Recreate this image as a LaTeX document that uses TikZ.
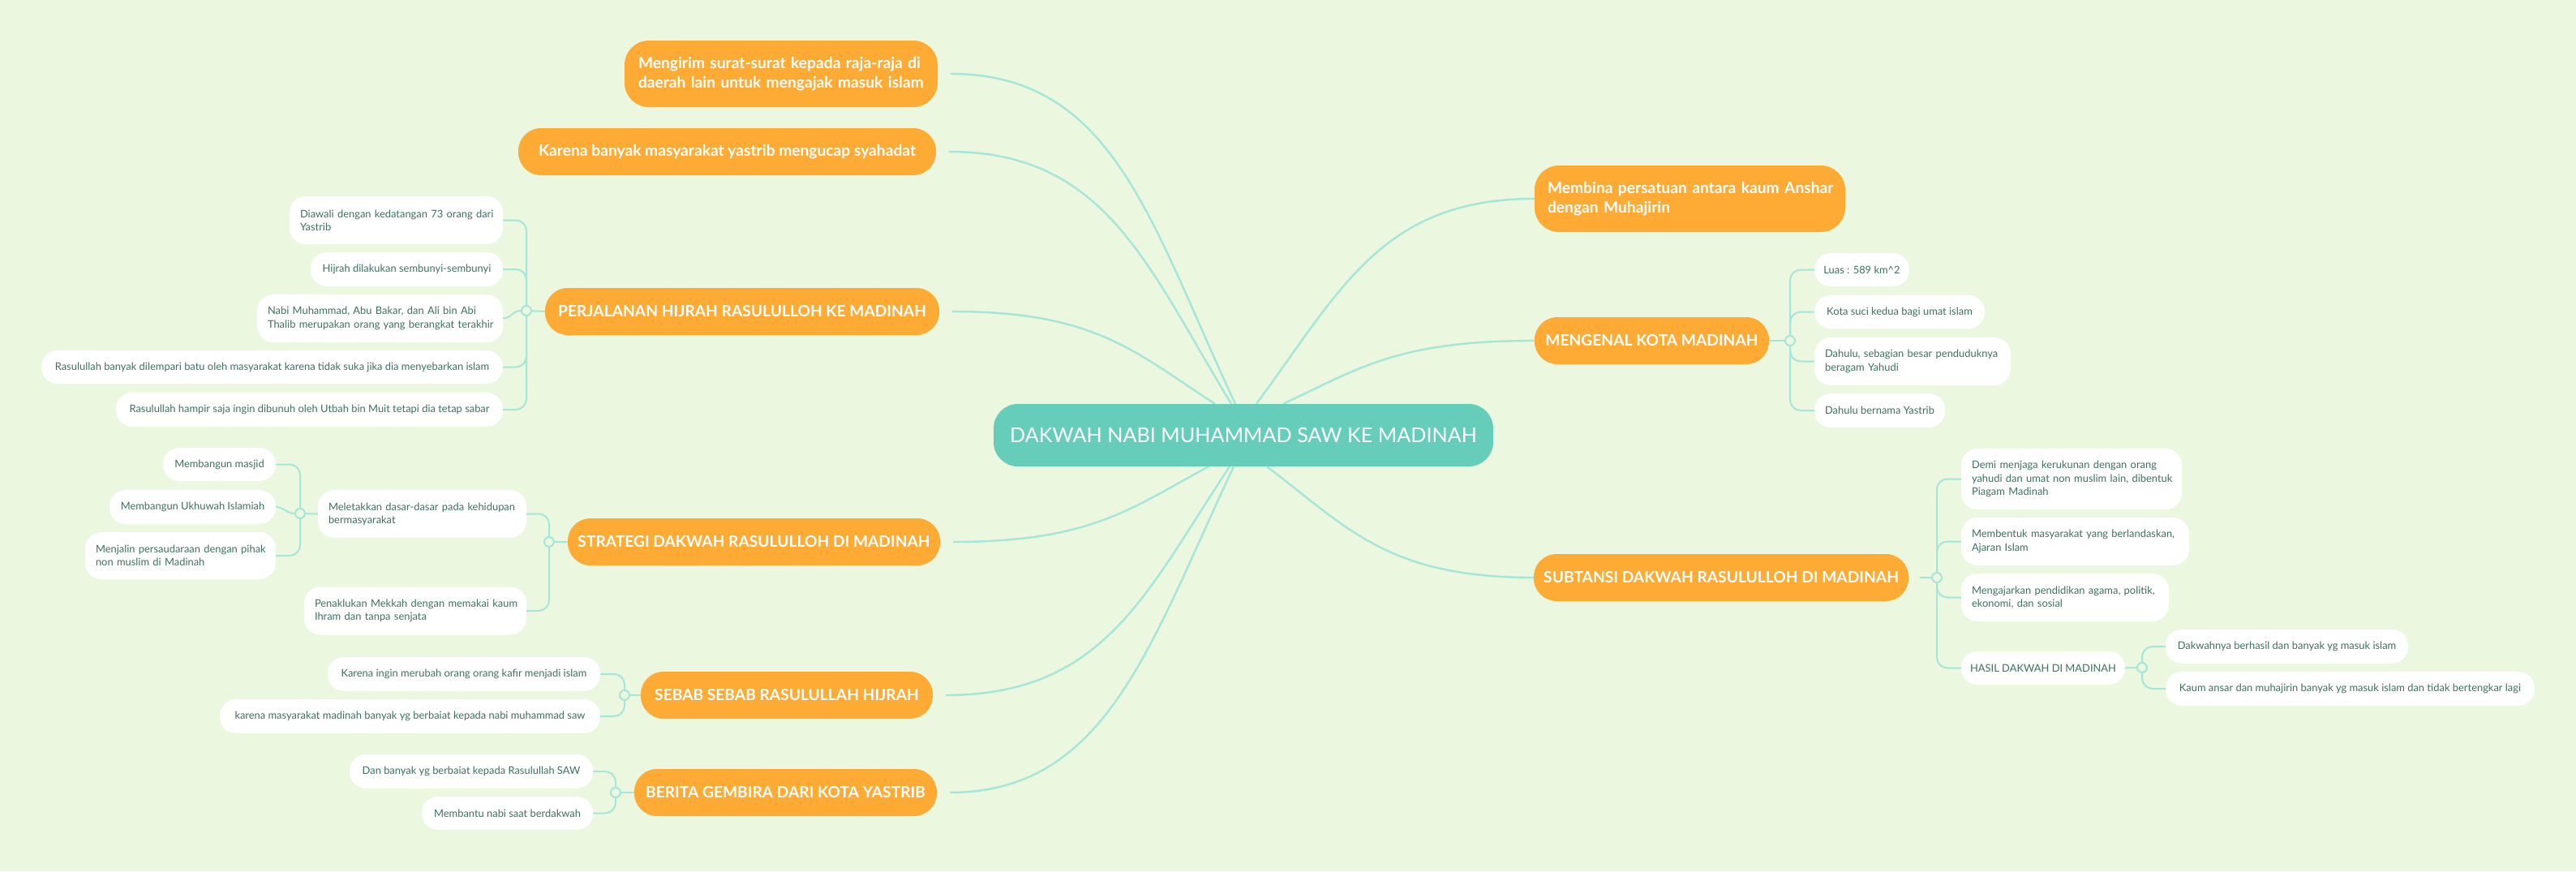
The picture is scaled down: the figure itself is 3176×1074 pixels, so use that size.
\documentclass[tikz,border=0pt]{standalone}
\usepackage{fontspec}
\setmainfont{Lato}
\definecolor{bgc}{HTML}{EBF7DF}
\definecolor{orgc}{HTML}{FEAB35}
\definecolor{ctrc}{HTML}{67CDBB}
\definecolor{lnc}{HTML}{A4E6D9}
\definecolor{txc}{HTML}{3F6F61}
\newcommand\fleaf{\fontsize{12.9}{16.3}\selectfont}
\newcommand\forg{\bfseries\fontsize{19.2}{24}\selectfont}
\newcommand\fctr{\fontsize{25.2}{30}\selectfont}
\newcommand\oneln[1]{\mbox{#1}}
\pgfdeclarelayer{back}
\pgfdeclarelayer{lines}
\pgfsetlayers{back,lines,main}
\tikzset{
  leaf/.style={fill=white, rounded corners=20pt, inner xsep=13pt, inner ysep=0pt, text=txc, font=\fleaf, align=left},
  leafone/.style={fill=white, rounded corners=20pt, inner xsep=0pt, inner ysep=0pt, text=txc, font=\fleaf, align=center},
  orgnode/.style={fill=orgc, rounded corners=28pt, inner xsep=0pt, inner ysep=0pt, text=white, font=\forg, align=center, minimum height=58pt},
  orgmulti/.style={fill=orgc, rounded corners=30pt, inner ysep=0pt, text=white, font=\forg, align=left, minimum height=82pt},
  ctrnode/.style={fill=ctrc, rounded corners=30pt, inner sep=0pt, text=white, font=\fctr, minimum width=616pt, minimum height=77pt},
  jn/.style={circle, draw=lnc, fill=bgc, line width=2pt, minimum size=12pt, inner sep=0pt},
  conn/.style={draw=lnc, line width=2.4pt},
  sub/.style={draw=lnc, line width=2pt, rounded corners=13pt},
}
\begin{document}
\begin{tikzpicture}[x=1pt,y=-1pt]
\begin{pgfonlayer}{back}
\fill[bgc] (0,0) rectangle (3176,1074);
\end{pgfonlayer}
\useasboundingbox (0,0) rectangle (3176,1074);

% center
\node[ctrnode] (c) at (1533,536.5) {DAKWAH NABI MUHAMMAD SAW KE MADINAH};

% left main branches
\node[orgmulti, inner xsep=17pt, text width=352pt] (L1) at (963,91) {\oneln{Mengirim surat-surat kepada raja-raja di}\\\oneln{daerah lain untuk mengajak masuk islam}};
\node[orgnode, minimum width=515pt] (L2) at (896.5,187) {Karena banyak masyarakat yastrib mengucap syahadat};
\node[orgnode, minimum width=486pt] (L3) at (915,384) {PERJALANAN HIJRAH RASULULLOH KE MADINAH};
\node[orgnode, minimum width=459pt] (L4) at (929.5,668) {STRATEGI DAKWAH RASULULLOH DI MADINAH};
\node[orgnode, minimum width=360pt] (L5) at (970,857) {SEBAB SEBAB RASULULLAH HIJRAH};
\node[orgnode, minimum width=373pt] (L6) at (968.5,977) {BERITA GEMBIRA DARI KOTA YASTRIB};

% right main branches
\node[orgmulti, inner xsep=16pt, text width=351pt] (R1) at (2083.5,245) {\oneln{Membina persatuan antara kaum Anshar}\\\oneln{dengan Muhajirin}};
\node[orgnode, minimum width=289pt] (R2) at (2036.5,420) {MENGENAL KOTA MADINAH};
\node[orgnode, minimum width=462pt] (R3) at (2122,712) {SUBTANSI DAKWAH RASULULLOH DI MADINAH};

% junctions
\node[jn] (j3) at (649,383) {};
\node[jn] (j4) at (677,668) {};
\node[jn] (j41) at (370,633) {};
\node[jn] (j5) at (770,857) {};
\node[jn] (j6) at (759,977) {};
\node[jn] (j2) at (2207,420) {};
\node[jn] (j7) at (2388,712) {};
\node[jn] (j8) at (2641,823) {};

% PERJALANAN children
\node[leaf, text width=237pt, minimum height=59pt] (a1) at (488.5,271.5) {\oneln{Diawali dengan kedatangan 73 orang dari}\\\oneln{Yastrib}};
\node[leafone, minimum width=237pt, minimum height=42pt] (a2) at (501.5,332) {Hijrah dilakukan sembunyi-sembunyi};
\node[leaf, text width=277pt, minimum height=59pt] (a3) at (468.5,392.5) {\oneln{Nabi Muhammad, Abu Bakar, dan Ali bin Abi}\\\oneln{Thalib merupakan orang yang berangkat terakhir}};
\node[leafone, minimum width=569pt, minimum height=41pt] (a4) at (335.5,452.5) {Rasulullah banyak dilempari batu oleh masyarakat karena tidak suka jika dia menyebarkan islam};
\node[leafone, minimum width=477pt, minimum height=42pt] (a5) at (381.5,505) {Rasulullah hampir saja ingin dibunuh oleh Utbah bin Muit tetapi dia tetap sabar};

% STRATEGI children
\node[leaf, text width=231pt, minimum height=59pt] (b1) at (520.5,633.5) {\oneln{Meletakkan dasar-dasar pada kehidupan}\\\oneln{bermasyarakat}};
\node[leaf, text width=248pt, minimum height=59pt] (b2) at (512,753) {\oneln{Penaklukan Mekkah dengan memakai kaum}\\\oneln{Ihram dan tanpa senjata}};
\node[leafone, minimum width=139pt, minimum height=41pt] (b11) at (270.5,572.5) {Membangun masjid};
\node[leafone, minimum width=205pt, minimum height=42pt] (b12) at (237.5,625) {Membangun Ukhuwah Islamiah};
\node[leaf, text width=209pt, minimum height=58pt] (b13) at (222.5,685) {\oneln{Menjalin persaudaraan dengan pihak}\\\oneln{non muslim di Madinah}};

% SEBAB children
\node[leafone, minimum width=336pt, minimum height=42pt] (c1) at (572,831) {Karena ingin merubah orang orang kafir menjadi islam};
\node[leafone, minimum width=469pt, minimum height=42pt] (c2) at (505.5,883) {karena masyarakat madinah banyak yg berbaiat kepada nabi muhammad saw};

% BERITA children
\node[leafone, minimum width=300pt, minimum height=42pt] (d1) at (581,951) {Dan banyak yg berbaiat kepada Rasulullah SAW};
\node[leafone, minimum width=211pt, minimum height=41pt] (d2) at (625.5,1002.5) {Membantu nabi saat berdakwah};

% MENGENAL children
\node[leafone, minimum width=117pt, minimum height=41pt] (e1) at (2295.5,332.5) {Luas : 589 km\textasciicircum 2};
\node[leafone, minimum width=210pt, minimum height=41pt] (e2) at (2342,384.5) {Kota suci kedua bagi umat islam};
\node[leaf, text width=216pt, minimum height=59pt] (e3) at (2358,445.5) {\oneln{Dahulu, sebagian besar penduduknya}\\\oneln{beragam Yahudi}};
\node[leafone, minimum width=161pt, minimum height=42pt] (e4) at (2317.5,506) {Dahulu bernama Yastrib};

% SUBTANSI children
\node[leaf, text width=246pt, minimum height=75pt] (f1) at (2554,590.5) {\oneln{Demi menjaga kerukunan dengan orang}\\\oneln{yahudi dan umat non muslim lain, dibentuk}\\\oneln{Piagam Madinah}};
\node[leaf, text width=255pt, minimum height=59pt] (f2) at (2558.5,667.5) {\oneln{Membentuk masyarakat yang berlandaskan,}\\\oneln{Ajaran Islam}};
\node[leaf, text width=230pt, minimum height=59pt] (f3) at (2546,736.5) {\oneln{Mengajarkan pendidikan agama, politik,}\\\oneln{ekonomi, dan sosial}};
\node[leafone, minimum width=202pt, minimum height=41pt] (f4) at (2519,823.5) {HASIL DAKWAH DI MADINAH};
\node[leafone, minimum width=299pt, minimum height=42pt] (g1) at (2819.5,797) {Dakwahnya berhasil dan banyak yg masuk islam};
\node[leafone, minimum width=455pt, minimum height=42pt] (g2) at (2897.5,849) {Kaum ansar dan muhajirin banyak yg masuk islam dan tidak bertengkar lagi};

\begin{pgfonlayer}{lines}
% center connectors
\draw[conn, shorten <=16pt] (L1.east) .. controls (1373,91) and (1418,274) .. ([xshift=-10pt]c.north);
\draw[conn, shorten <=16pt] (L2.east) .. controls (1363,187) and (1414,327) .. ([xshift=-15pt]c.north);
\draw[conn, shorten <=16pt] (L3.east) .. controls (1352,384) and (1400,435) .. ([xshift=-35pt]c.north);
\draw[conn, shorten <=16pt] (L4.east) .. controls (1347,668) and (1395,626) .. ([xshift=-43pt]c.south);
\draw[conn, shorten <=16pt] (L5.east) .. controls (1362,857) and (1413,730) .. ([xshift=-17pt]c.south);
\draw[conn, shorten <=16pt] (L6.east) .. controls (1364,977) and (1417,796) .. ([xshift=-12pt]c.south);
\draw[conn] (R1.west) .. controls (1703,245) and (1652,359) .. ([xshift=16pt]c.north);
\draw[conn] (R2.west) .. controls (1721,420) and (1675,455) .. ([xshift=49pt]c.north);
\draw[conn] (R3.west) .. controls (1710,712) and (1661,650) .. ([xshift=29pt]c.south);

% parent to junction
\draw[sub] (L3.west) -- (j3);
\draw[sub] (L4.west) -- (j4);
\draw[sub] (b1.west) -- (j41);
\draw[sub] (L5.west) -- (j5);
\draw[sub] (L6.west) -- (j6);
\draw[sub] (R2.east) -- (j2);
\draw[sub, shorten <=14pt] (R3.east) -- (j7);
\draw[sub] (f4.east) -- (j8);

% left branch edges
\draw[sub] (a1.east) -| (j3.north);
\draw[sub] (a2.east) -| (j3.north);
\draw[sub] (a3.east) to[out=0,in=180] (j3.west);
\draw[sub] (a4.east) -| (j3.south);
\draw[sub] (a5.east) -| (j3.south);
\draw[sub] (b1.east) -| (j4.north);
\draw[sub] (b2.east) -| (j4.south);
\draw[sub] (b11.east) -| (j41.north);
\draw[sub] (b12.east) to[out=0,in=180] (j41.west);
\draw[sub] (b13.east) -| (j41.south);
\draw[sub] (c1.east) -| (j5.north);
\draw[sub] (c2.east) -| (j5.south);
\draw[sub] (d1.east) -| (j6.north);
\draw[sub] (d2.east) -| (j6.south);

% right branch edges
\draw[sub] (j2.north) |- (e1.west);
\draw[sub] (j2.north) |- (e2.west);
\draw[sub] (j2.south) |- (e3.west);
\draw[sub] (j2.south) |- (e4.west);
\draw[sub] (j7.north) |- (f1.west);
\draw[sub] (j7.north) |- (f2.west);
\draw[sub] (j7.south) |- (f3.west);
\draw[sub] (j7.south) |- (f4.west);
\draw[sub] (j8.north) |- (g1.west);
\draw[sub] (j8.south) |- (g2.west);
\end{pgfonlayer}
\end{tikzpicture}
\end{document}
